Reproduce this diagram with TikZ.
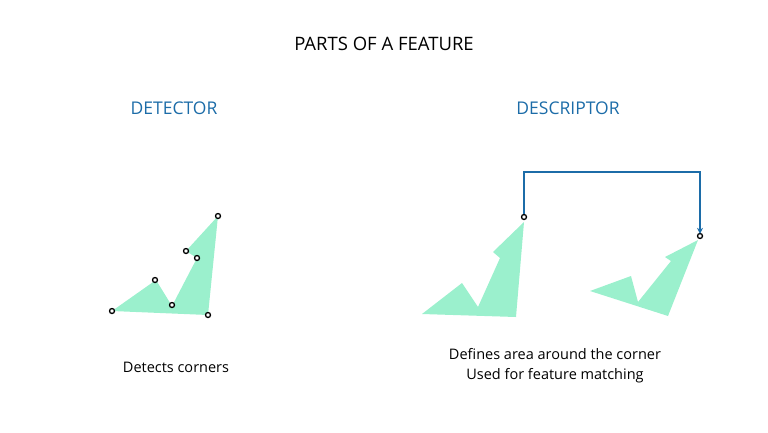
\documentclass[tikz,border=0pt]{standalone}
\usepackage{fontspec}
\setmainfont{Open Sans}
\usepackage{tikz}
\usetikzlibrary{positioning,arrows.meta}
\definecolor{featgreen}{RGB}{155,240,205}
\definecolor{featblue}{RGB}{28,108,168}
\tikzset{
  corner/.style={circle,draw=black,line width=1.3pt,fill=white,inner sep=0pt,minimum size=5pt},
  heading/.style={text=featblue,font=\fontsize{17.5}{20}\selectfont},
  caption/.style={font=\fontsize{14.5}{20}\selectfont,align=center}
}
\begin{document}
\begin{tikzpicture}[x=1pt,y=-1pt]
\useasboundingbox (0,0) rectangle (768,432);
\node[font=\fontsize{18.5}{22}\selectfont] (title) at (384,44) {PARTS OF A FEATURE};
\node[heading] (det) at (174,108) {DETECTOR};
\node[heading] (desc) at (568,108) {DESCRIPTOR};
% detector shape
\fill[featgreen] (112,311) -- (156,280) -- (172,306) -- (197,258) -- (186,251)
  -- (218,216) -- (208,315) -- cycle;
\node[corner] (c1) at (112,311) {};
\node[corner] (c2) at (155,280) {};
\node[corner] (c3) at (172,305) {};
\node[corner] (c4) at (186,251) {};
\node[corner] (c5) at (197,258) {};
\node[corner] (c6) at (218,216) {};
\node[corner] (c7) at (208,315) {};
\node[caption] (detcap) at (176,367) {Detects corners};
% descriptor shapes
\fill[featgreen] (422,314) -- (462,283) -- (478,307) -- (500,258) -- (493,252)
  -- (524,222) -- (516,317) -- cycle;
\fill[featgreen] (590,291) -- (631,276) -- (638,302) -- (671,261) -- (665,257)
  -- (698,240) -- (668,316) -- cycle;
\node[corner] (da) at (524,217) {};
\node[corner] (db) at (700,236) {};
\draw[featblue,line width=1.5pt,-{Stealth[length=6pt,width=6pt]}]
  (da.north) -- (da.north |- 0,172) -- (db.north |- 0,172) -- ([yshift=-1pt]db.north);
\node[caption] (desccap) at (555,366) {Defines area around the corner\\Used for feature matching};
\end{tikzpicture}
\end{document}
